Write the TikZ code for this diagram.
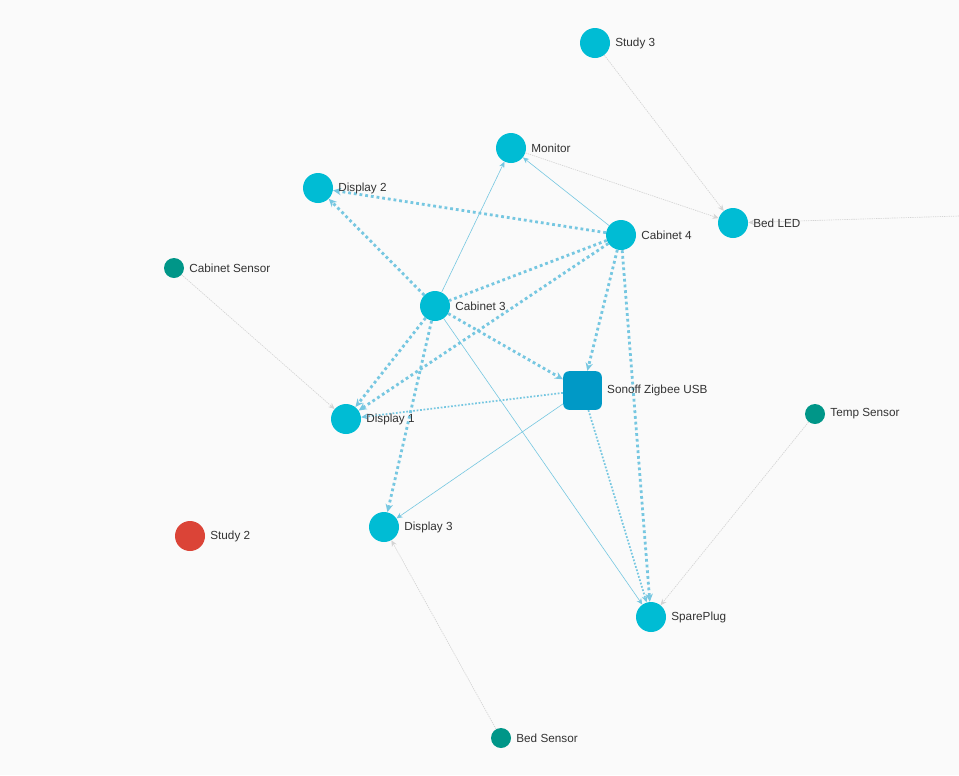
\documentclass[tikz,border=0pt]{standalone}
\usepackage{fontspec}
\setmainfont{Liberation Sans}
\usetikzlibrary{arrows.meta}
\definecolor{bg}{HTML}{FAFAFA}
\definecolor{dev}{HTML}{00BCD4}
\definecolor{sens}{HTML}{009688}
\definecolor{offl}{HTML}{DB4437}
\definecolor{coord}{HTML}{0099C6}
\definecolor{edgeb}{RGB}{118,199,225}
\definecolor{edgeg}{HTML}{D4D4D4}
\definecolor{txt}{HTML}{333333}
\pgfdeclarelayer{bgfill}
\pgfdeclarelayer{edges}
\pgfsetlayers{bgfill,edges,main}
\tikzset{
  lbl/.style={label distance=0.3pt, text=txt, font=\fontsize{8.8}{10}\selectfont},
  base/.style={circle, inner sep=0pt, draw=none, label={[lbl]right:#1}},
  devnode/.style={base=#1, fill=dev, minimum size=22.5pt},
  sensnode/.style={base=#1, fill=sens, minimum size=15pt},
  offnode/.style={base=#1, fill=offl, minimum size=22.5pt},
  coordnode/.style={rectangle, rounded corners=4.5pt, fill=coord, minimum size=29pt, inner sep=0pt,
    label={[lbl]right:#1}},
  strong/.style={draw=edgeb, line width=2.1pt, dash pattern=on 2.1pt off 2.2pt, -{Stealth[length=6pt,width=5.5pt]}},
  medium/.style={draw=edgeb, line width=1.3pt, dash pattern=on 1.3pt off 1.3pt, -{Stealth[length=5pt,width=4.5pt]}},
  weak/.style={draw=edgeb, line width=0.45pt, -{Stealth[length=4.5pt,width=4pt]}},
  faint/.style={draw=edgeg, line width=0.5pt, dash pattern=on 1pt off 0.7pt, -{Stealth[length=4.5pt,width=4pt]}},
}
\begin{document}
\begin{tikzpicture}[x=0.75pt, y=-0.75pt]
\begin{pgfonlayer}{bgfill}
\fill[bg] (0,0) rectangle (959,775);
\end{pgfonlayer}
\useasboundingbox (0,0) rectangle (959,775);
% nodes
\node[devnode=Study 3] (study3) at (595,43) {};
\node[devnode=Monitor] (monitor) at (511,148) {};
\node[devnode=Display 2] (disp2) at (318,188) {};
\node[devnode=Bed LED] (bedled) at (733,223) {};
\node[devnode=Cabinet 4] (cab4) at (621,235) {};
\node[sensnode=Cabinet Sensor] (cabsens) at (174,268) {};
\node[devnode=Cabinet 3] (cab3) at (435,306) {};
\node[coordnode=Sonoff Zigbee USB] (sonoff) at (582.5,390.5) {};
\node[devnode=Display 1] (disp1) at (346,419) {};
\node[sensnode=Temp Sensor] (temp) at (815,414) {};
\node[offnode=Study 2] (study2) at (190,536) {};
\node[devnode=Display 3] (disp3) at (384,527) {};
\node[devnode=SparePlug] (spare) at (651,617) {};
\node[sensnode=Bed Sensor] (bedsens) at (501,738) {};
\coordinate (offr) at (959,216);
\begin{pgfonlayer}{edges}
% faint edges
\draw[faint] (monitor) -- (bedled);
\draw[faint] (study3) -- (bedled);
\draw[faint] (offr) -- (bedled);
\draw[faint] (cabsens) -- (disp1);
\draw[faint] (bedsens) -- (disp3);
\draw[faint] (temp) -- (spare);
% weak edges
\draw[weak] (cab3) -- (monitor);
\draw[weak] (cab4) -- (monitor);
\draw[weak] (cab3) -- (spare);
\draw[weak] (sonoff) -- (disp3);
% medium edges
\draw[medium] (sonoff) -- (disp1);
\draw[medium] (sonoff) -- (spare);
% strong edges
\draw[strong] (cab3) -- (disp2);
\draw[strong] (cab4) -- (disp2);
\draw[strong, -] (cab4) -- (cab3);
\draw[strong] (cab3) -- (disp1);
\draw[strong] (cab4) -- (disp1);
\draw[strong] (cab3) -- (disp3);
\draw[strong] (cab3) -- (sonoff);
\draw[strong] (cab4) -- (sonoff);
\draw[strong] (cab4) -- (spare);
\end{pgfonlayer}
\end{tikzpicture}
\end{document}
